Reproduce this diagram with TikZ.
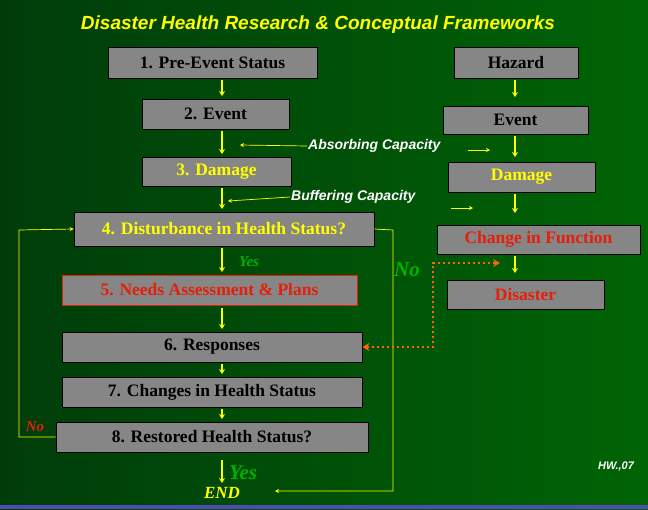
\documentclass[tikz,border=0pt]{standalone}
\usepackage{fontspec}
\setmainfont{Liberation Serif}
\newfontfamily\arialf{Liberation Sans}
\usetikzlibrary{arrows.meta}
\definecolor{dg}{RGB}{0,60,10}
\definecolor{lg}{RGB}{0,100,5}
\definecolor{org}{RGB}{255,102,0}
\definecolor{yl}{RGB}{255,255,0}
\definecolor{rd}{RGB}{230,30,10}
\begin{document}
\begin{tikzpicture}[x=1pt,y=-1pt,
 box/.style={draw=black,fill=gray!95!white,line width=0.8pt,inner sep=0pt,font=\bfseries\fontsize{17.5}{20}\selectfont},
 ar/.style={yl,line width=1.2pt,-{Stealth[length=5pt,width=6pt]}},
 th/.style={yl,line width=0.7pt,-{Stealth[length=4pt,width=4pt]}},
 lab/.style={font=\arialf\bfseries\itshape\fontsize{14}{16}\selectfont,white}]
\shade[left color=dg,right color=lg] (0,0) rectangle (648,509);
\fill[gray!60!blue] (0,505) rectangle (648,509);
\node[font=\arialf\bfseries\itshape\fontsize{19}{22}\selectfont,yl] (t) at (318,25) {Disaster Health Research \& Conceptual Frameworks};
\node[box,minimum width=209pt,minimum height=31pt] (b1) at (212.5,62.5) {1. Pre-Event Status};
\node[box,minimum width=147pt,minimum height=30pt] (b2) at (215.5,114) {2. Event};
\node[box,minimum width=149pt,minimum height=29pt,text=yl] (b3) at (216.5,171.5) {3. Damage};
\node[box,minimum width=300pt,minimum height=34pt,text=yl] (b4) at (224,229) {4. Disturbance in Health Status?};
\node[box,draw=rd,minimum width=295pt,minimum height=30pt,text=rd] (b5) at (209.5,290) {5. Needs Assessment \& Plans};
\node[box,minimum width=300pt,minimum height=30pt] (b6) at (212,347) {6. Responses};
\node[box,minimum width=300pt,minimum height=30pt] (b7) at (212,392) {7. Changes in Health Status};
\node[box,minimum width=312pt,minimum height=30pt] (b8) at (212,437) {8. Restored Health Status?};
\node[font=\bfseries\itshape\fontsize{17}{19}\selectfont,yl] (end) at (222,493) {END};
\node[box,minimum width=124pt,minimum height=31pt] (h) at (516,62.5) {Hazard};
\node[box,minimum width=145pt,minimum height=28pt] (e) at (515.5,120) {Event};
\node[box,minimum width=147pt,minimum height=30pt,text=yl] (d) at (521.5,177) {Damage};
\node[box,minimum width=203pt,minimum height=29pt,text=rd] (c) at (538.5,239.5) {Change in Function};
\node[box,minimum width=157pt,minimum height=29pt,text=rd] (ds) at (525.5,294.5) {Disaster};
\draw[ar] (222,80) -- (222,96);
\draw[ar] (222,131) -- (222,154);
\draw[ar] (222,188) -- (222,209);
\draw[ar] (222,248) -- (222,272);
\draw[ar] (222,308) -- (222,329);
\draw[ar] (222,364) -- (222,374);
\draw[ar] (222,409) -- (222,419);
\draw[ar] (222,460) -- (222,483);
\draw[ar] (515,80) -- (515,97);
\draw[ar] (515,136) -- (515,157);
\draw[ar] (515,194) -- (515,213);
\draw[ar] (515,256) -- (515,273);
\node[lab,anchor=west,inner sep=1pt] (ab) at (307,146) {Absorbing Capacity};
\draw[th] (ab.west) -- (240,145);
\coordinate (ar1) at (468,150); \draw[th] (ar1) -- ++(22,0);
\node[lab,anchor=west,inner sep=1pt] (bu) at (290,197) {Buffering Capacity};
\draw[th] (bu.west) -- (228,201);
\coordinate (ar2) at (451,208); \draw[th] (ar2) -- ++(22,0);
\node[font=\bfseries\itshape\fontsize{15}{17}\selectfont,green!70!black] (y1) at (249,262) {Yes};
\node[font=\bfseries\itshape\fontsize{21}{23}\selectfont,green!70!black] (y2) at (243,473) {Yes};
\node[font=\bfseries\itshape\fontsize{21}{23}\selectfont,green!70!black] (n1) at (407,270) {No};
\node[font=\bfseries\itshape\fontsize{15}{17}\selectfont,rd] (n2) at (35,427) {No};
\draw[th] (b8.west) -- (19,437) -- (19,230) -- (b4.west);
\draw[th] (b4.east) -- (393,230) -- (393,491) -- (275,491);
\draw[org,line width=2.5pt,dash pattern=on 2.5pt off 2.5pt,{Stealth[length=7pt,width=8pt]}-{Stealth[length=7pt,width=8pt]}] (b6.east) -- (433,347) -- (433,263) -- (500,263);
\node[font=\arialf\bfseries\itshape\fontsize{11}{13}\selectfont,white] (hw) at (616,467) {HW.,07};
\end{tikzpicture}
\end{document}
